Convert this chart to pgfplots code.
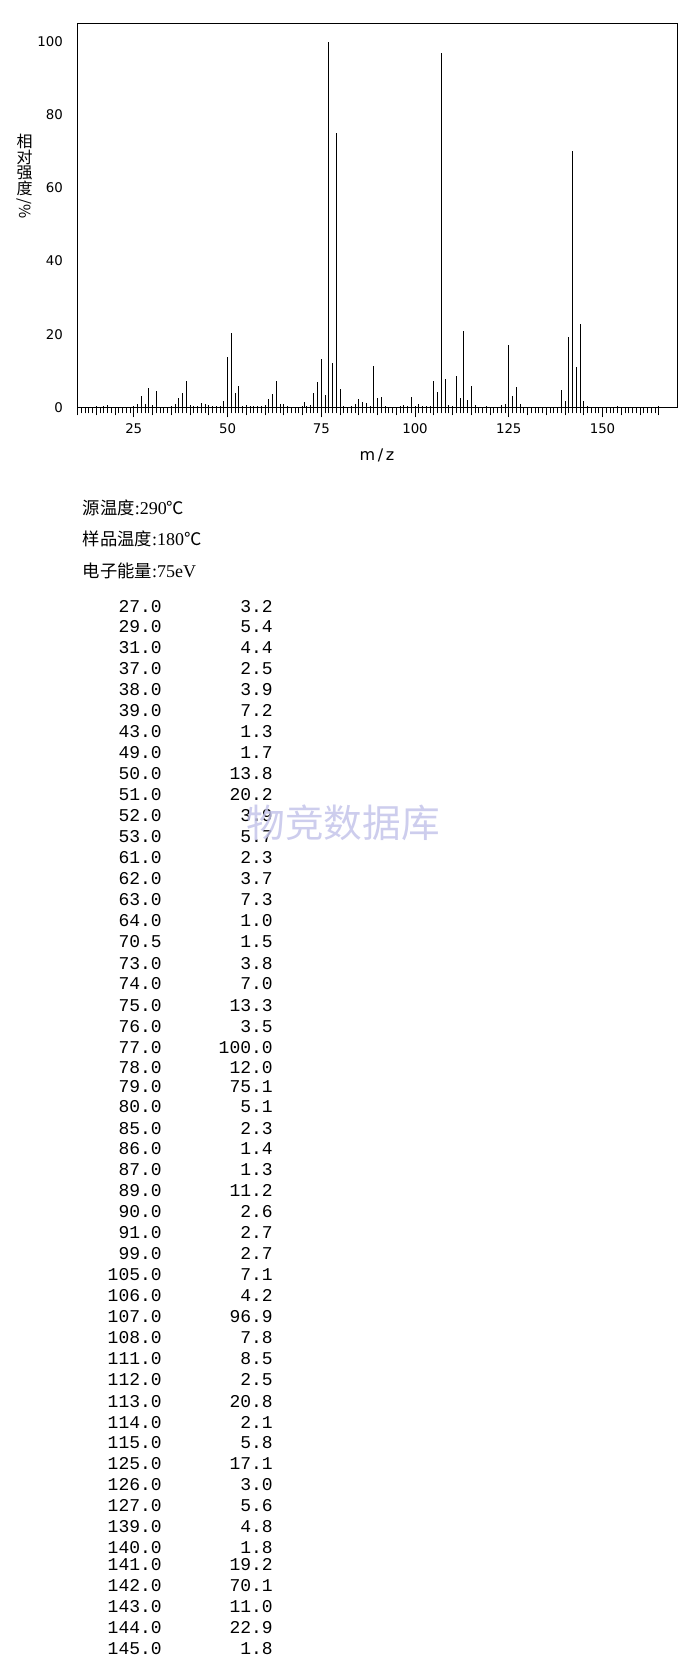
\documentclass[border=0pt]{standalone}
\usepackage{pgfplots}
\usepackage{pgfplotstable}
\pgfplotsset{compat=1.18}
\usepackage{fontspec}
\setmainfont{DejaVu Sans}
\newfontfamily\cjk{Noto Sans CJK SC}
\newfontfamily\serif{Liberation Serif}
\newfontfamily\mono{Liberation Mono}
\definecolor{wm}{RGB}{196,196,234}

\pgfplotstableread{
mz int
15 0.45
17 0.45
18 0.7
25 0.4
26 0.9
27 3.2
28 1.0
29 5.4
30 0.6
31 4.4
35 0.45
36 0.9
37 2.5
38 3.9
39 7.2
40 0.6
41 0.45
42 0.45
43 1.3
44 0.9
45 0.6
46 0.45
47 0.35
48 0.45
49 1.7
50 13.8
51 20.2
52 3.9
53 5.7
54 0.45
55 0.6
56 0.35
57 0.35
58 0.35
59 0.35
60 0.6
61 2.3
62 3.7
63 7.3
64 1.0
65 0.9
66 0.35
70 0.35
70.5 1.5
71 0.45
72 0.6
73 3.8
74 7.0
75 13.3
76 3.5
77 100
78 12.0
79 75.1
80 5.1
81 0.35
83 0.35
84 0.9
85 2.3
86 1.4
87 1.3
88 0.45
89 11.2
90 2.6
91 2.7
92 0.35
96 0.35
97 0.55
98 0.35
99 2.7
100 0.35
101 0.9
102 0.45
103 0.35
104 0.45
105 7.1
106 4.2
107 96.9
108 7.8
109 0.6
110 0.35
111 8.5
112 2.5
113 20.8
114 2.1
115 5.8
116 0.6
119 0.35
123 0.6
124 0.9
125 17.1
126 3.0
127 5.6
128 1.0
139 4.8
140 1.8
141 19.2
142 70.1
143 11.0
144 22.9
145 1.8
146 0.35
154 0.35
165 0.35
}\spectrum

\begin{document}
\begin{tikzpicture}
\path[use as bounding box] (0,0) rectangle (515.25pt,-1241.25pt);
\begin{axis}[
  at={(58.125pt,-305.475pt)}, anchor=south west,
  width=450pt, height=288pt, scale only axis,
  xmin=10, xmax=170, ymin=0, ymax=105,
  axis line style={line width=0.75pt},
  tick align=outside, xtick pos=bottom, ytick pos=left,
  major tick length=7.5pt, minor tick length=4.5pt,
  every tick/.style={black, line width=0.75pt},
  xtick={25,50,...,150},
  minor xtick={10,11,...,165},
  extra x ticks={10,15,...,165},
  extra x tick labels={},
  extra x tick style={major tick length=6pt},
  ytick={0,20,...,100},
  minor ytick={0,10,...,100},
  ytick style={draw=none},
  /pgf/number format/assume math mode=true,
  ticklabel style={font=\fontsize{10}{10}\selectfont},
  xticklabel style={yshift=-1.5pt},
]
\addplot[ycomb, black, line width=0.75pt, mark=none] table[x=mz,y=int]{\spectrum};
\end{axis}
\begin{scope}[x=0.75pt, y=-0.75pt]
\node[font=\fontsize{12}{12}\selectfont, inner sep=0] at (377,455) {m\,/\,z};
\foreach \yy/\ch in {141/相,157/对,172.5/强,188/度}
  \node[font=\cjk\fontsize{12}{12}\selectfont, inner sep=0] at (24.7,\yy) {\ch};
\node[font=\cjk\fontsize{11.5}{11.5}\selectfont, inner sep=0, rotate=-90] at (24.7,209) {/\%};
\begin{scope}[every node/.style={anchor=west, inner sep=0, font=\serif\fontsize{13.5}{13.5}\selectfont}]
\node at (82.5,508) {{\cjk\fontsize{13}{13}\selectfont 源温度}:290{\cjk\fontsize{13}{13}\selectfont ℃}};
\node at (82.5,539) {{\cjk\fontsize{13}{13}\selectfont 样品温度}:180{\cjk\fontsize{13}{13}\selectfont ℃}};
\node at (82.5,571) {{\cjk\fontsize{13}{13}\selectfont 电子能量}:75eV};
\end{scope}
\foreach \yy/\a/\b in {606.7/27.0/3.2, 626.7/29.0/5.4, 647.7/31.0/4.4, 669/37.0/2.5, 690/38.0/3.9,
 710.7/39.0/7.2, 732.3/43.0/1.3, 753/49.0/1.7, 774/50.0/13.8, 795/51.0/20.2, 816/52.0/3.9,
 836.7/53.0/5.7, 857.7/61.0/2.3, 878.7/62.0/3.7, 899.7/63.0/7.3, 920.7/64.0/1.0, 941.7/70.5/1.5,
 964/73.0/3.8, 984.3/74.0/7.0, 1005.7/75.0/13.3, 1026.7/76.0/3.5, 1047.7/77.0/100.0,
 1068.3/78.0/12.0, 1086.7/79.0/75.1, 1107.3/80.0/5.1, 1128.7/85.0/2.3, 1149.3/86.0/1.4,
 1170/87.0/1.3, 1191/89.0/11.2, 1212.3/90.0/2.6, 1232.7/91.0/2.7, 1254/99.0/2.7,
 1275/105.0/7.1, 1295.7/106.0/4.2, 1317.3/107.0/96.9, 1338.3/108.0/7.8, 1359.3/111.0/8.5,
 1380.3/112.0/2.5, 1401.7/113.0/20.8, 1422.7/114.0/2.1, 1443.3/115.0/5.8, 1464/125.0/17.1,
 1485/126.0/3.0, 1506/127.0/5.6, 1527.3/139.0/4.8, 1547.7/140.0/1.8, 1565/141.0/19.2,
 1586/142.0/70.1, 1606.7/143.0/11.0, 1627.7/144.0/22.9, 1648.7/145.0/1.8}{
  \node[anchor=base east, inner sep=0, font=\mono\fontsize{13.5}{13.5}\selectfont] at (162,\yy+5.3) {\a};
  \node[anchor=base east, inner sep=0, font=\mono\fontsize{13.5}{13.5}\selectfont] at (273,\yy+5.3) {\b};
}
\node[text=wm, opacity=0.85, inner sep=0, font=\cjk\fontsize{29}{29}\selectfont] at (343.3,823) {物竞数据库};
\end{scope}
\end{tikzpicture}
\end{document}
